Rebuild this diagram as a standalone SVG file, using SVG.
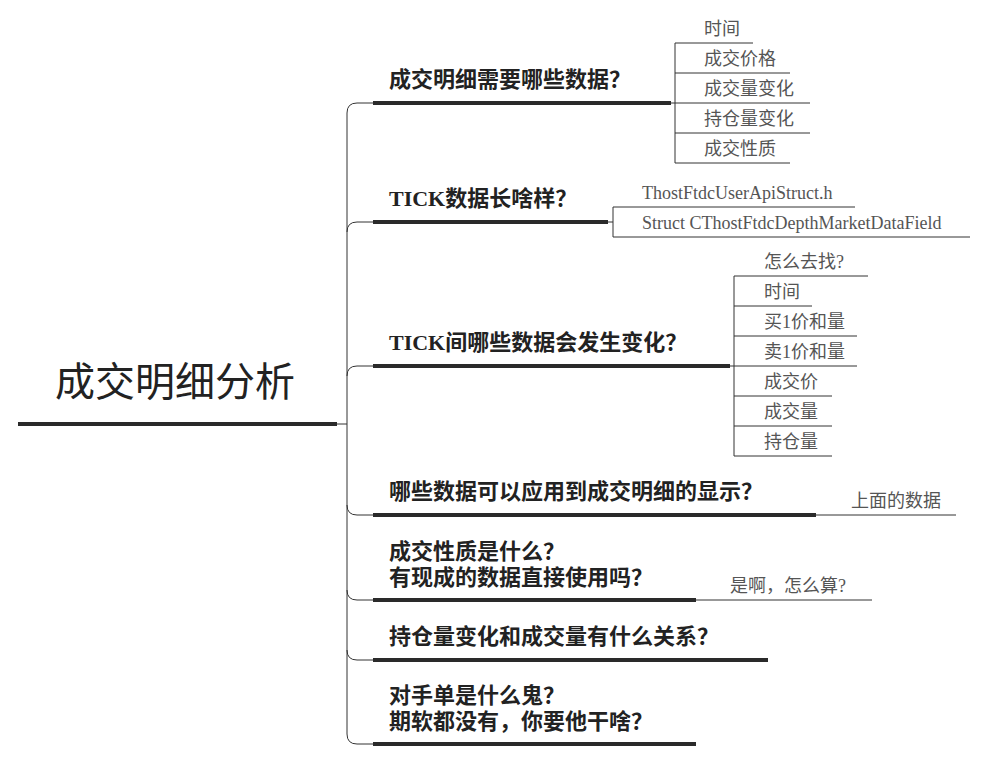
<svg xmlns="http://www.w3.org/2000/svg" width="986" height="762" viewBox="0 0 986 762">
<style>
.b{font-family:"Liberation Serif","Noto Sans CJK SC",serif;font-weight:bold;font-size:22px;fill:#222}
.l{font-family:"Liberation Serif","Noto Sans CJK SC",serif;font-size:18px;fill:#555}
.t{stroke:#2a2a2a;stroke-width:4;fill:none}
.n{stroke:#333;stroke-width:1;fill:none}
</style>
<rect width="986" height="762" fill="#fff"/>
<g id="connectors">
<path class="n" d="M337,424H347M347,113V734M347,113Q347,103 357,103H373M347,232Q347,222 357,222H373M347,376Q347,366 357,366H373M347,505Q347,515 357,515H373M347,590Q347,600 357,600H373M347,650Q347,660 357,660H373M347,734Q347,744 357,744H373"/>
<path class="n" d="M671,103H675M675,43V163M675,43H753M675,73H790M675,103H810M675,133H810M675,163H790"/>
<path class="n" d="M608,222H613M613,207V237M613,207H855M613,237H970"/>
<path class="n" d="M730,366H734M734,276V456M734,276H868M734,306H812M734,336H857M734,366H857M734,396H832M734,426H832M734,456H832"/>
<path class="n" d="M816,515H956M696,600H872"/>
</g>
<g id="root"><path class="t" d="M18,424H337"/><text x="55" y="396" style="font-family:'Liberation Serif','Noto Sans CJK SC',serif;font-size:40px;fill:#222">成交明细分析</text></g>
<g id="n1"><path class="t" d="M373,103H671"/><text class="b" x="389" y="87">成交明细需要哪些数据？</text>
<text class="l" x="704" y="35">时间</text><text class="l" x="704" y="65">成交价格</text><text class="l" x="704" y="95">成交量变化</text><text class="l" x="704" y="125">持仓量变化</text><text class="l" x="704" y="155">成交性质</text></g>
<g id="n2"><path class="t" d="M373,222H608"/><text class="b" x="389" y="206">TICK数据长啥样？</text>
<text class="l" x="642" y="199">ThostFtdcUserApiStruct.h</text><text class="l" x="642" y="229">Struct CThostFtdcDepthMarketDataField</text></g>
<g id="n3"><path class="t" d="M373,366H730"/><text class="b" x="389" y="350">TICK间哪些数据会发生变化？</text>
<text class="l" x="764" y="268">怎么去找?</text><text class="l" x="764" y="298">时间</text><text class="l" x="764" y="328">买1价和量</text><text class="l" x="764" y="358">卖1价和量</text><text class="l" x="764" y="388">成交价</text><text class="l" x="764" y="418">成交量</text><text class="l" x="764" y="448">持仓量</text></g>
<g id="n4"><path class="t" d="M373,515H816"/><text class="b" x="389" y="499">哪些数据可以应用到成交明细的显示？</text><text class="l" x="851" y="507">上面的数据</text></g>
<g id="n5"><path class="t" d="M373,600H696"/><text class="b" x="389" y="559">成交性质是什么？</text><text class="b" x="389" y="585">有现成的数据直接使用吗？</text><text class="l" x="730" y="592">是啊，怎么算?</text></g>
<g id="n6"><path class="t" d="M373,660H768"/><text class="b" x="389" y="644">持仓量变化和成交量有什么关系？</text></g>
<g id="n7"><path class="t" d="M373,744H696"/><text class="b" x="389" y="703">对手单是什么鬼？</text><text class="b" x="389" y="729">期软都没有，你要他干啥？</text></g>
</svg>
